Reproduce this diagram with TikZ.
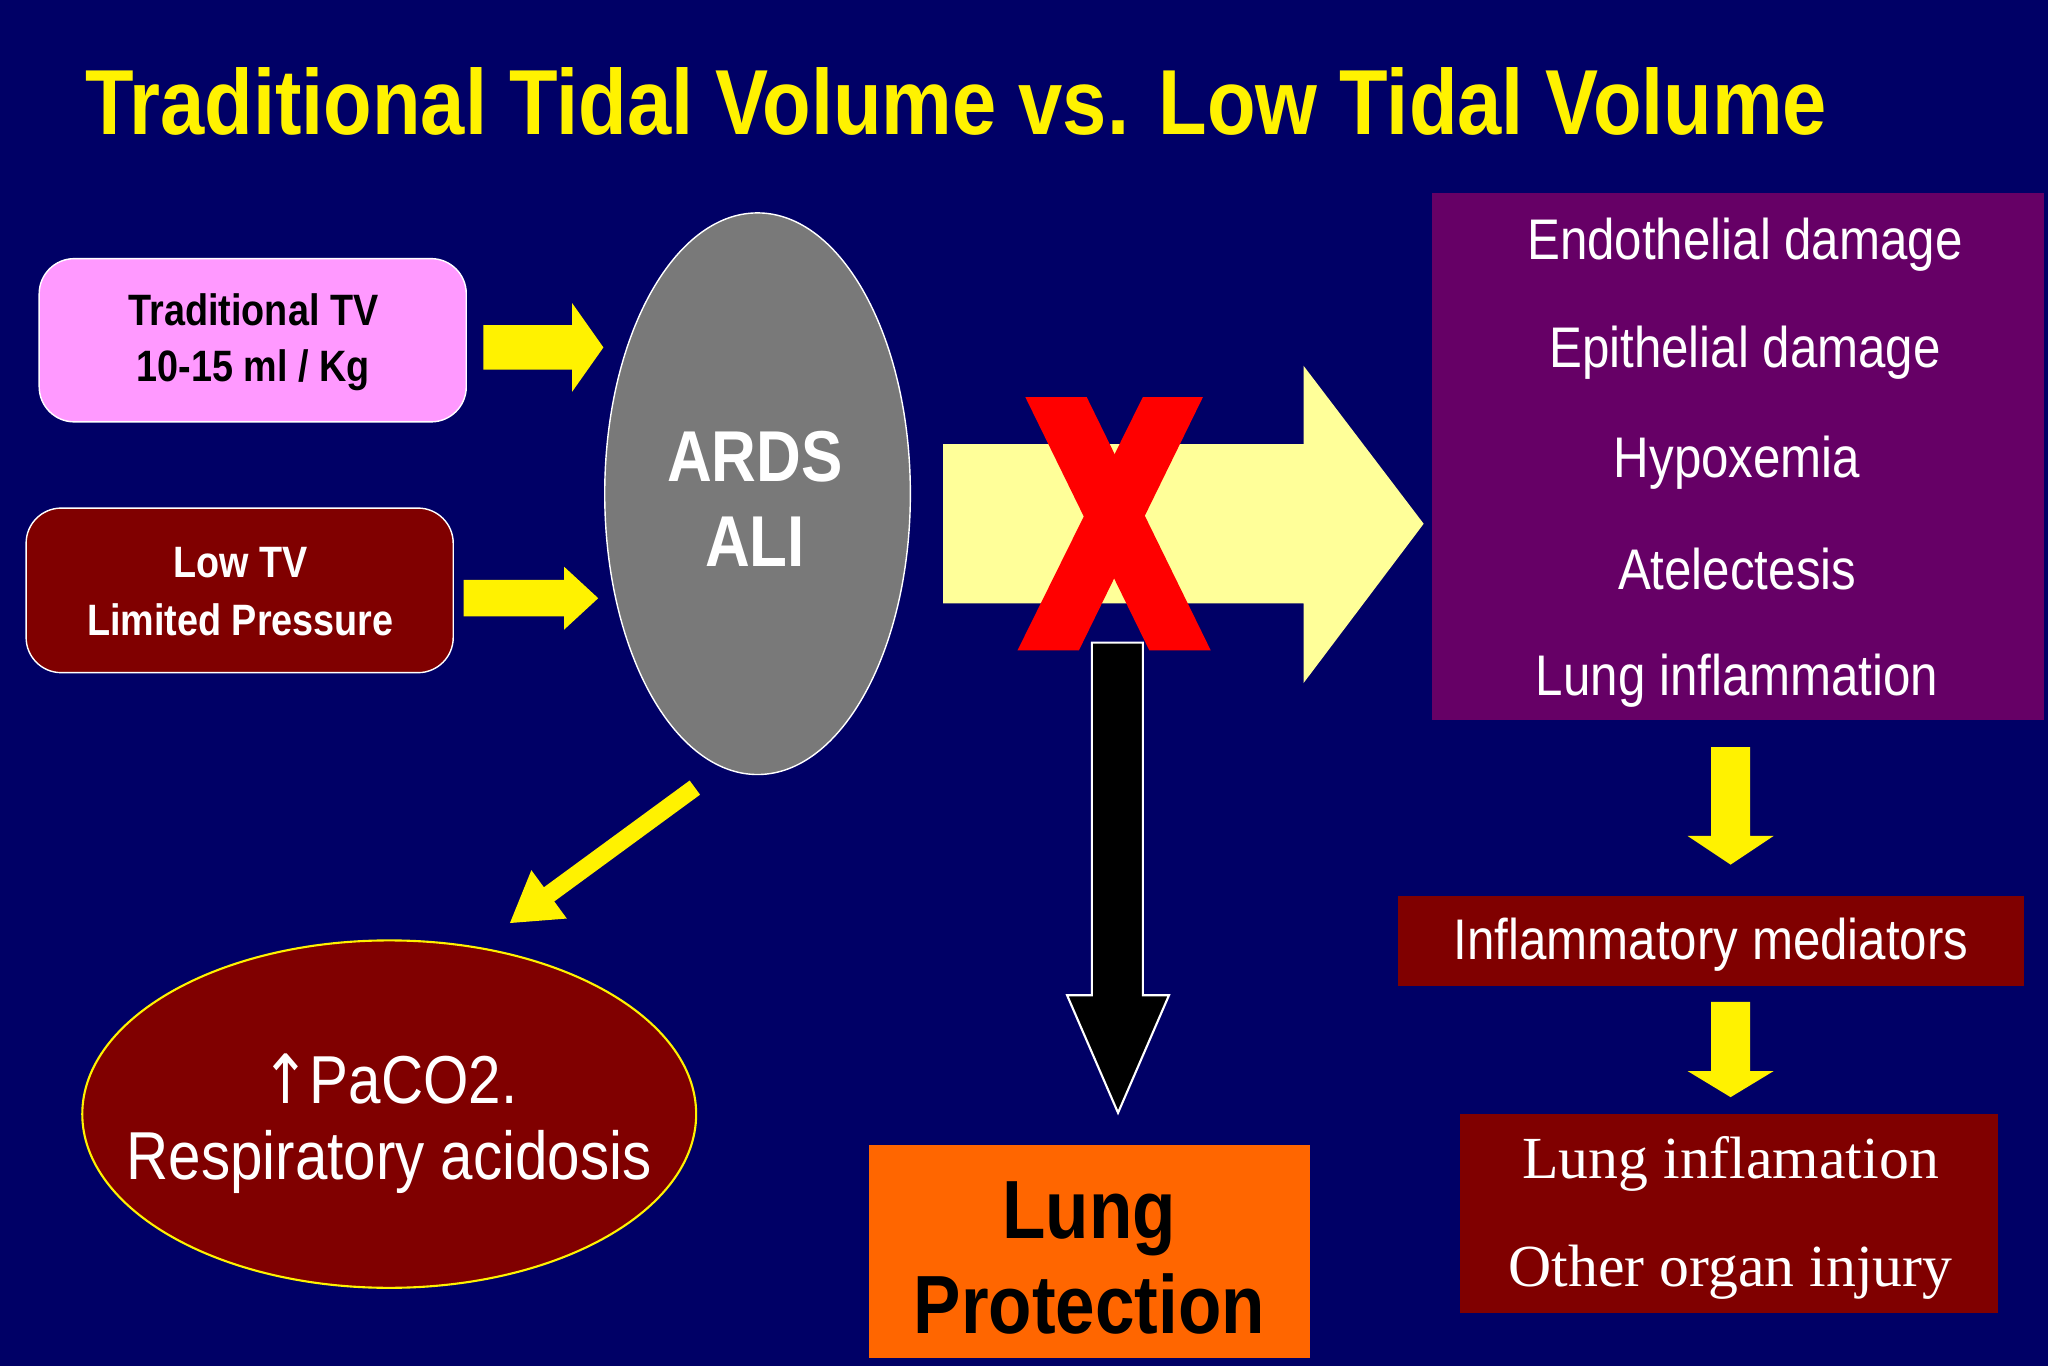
\documentclass[tikz,border=0pt]{standalone}
\usetikzlibrary{arrows.meta}
\usepackage{fontspec}
\setmainfont[FakeStretch=0.86]{Liberation Sans}
\newfontfamily\serifont{Liberation Serif}
\newfontfamily\djv[FakeStretch=0.86]{DejaVu Sans}
\definecolor{navy}{HTML}{000066}
\definecolor{dred}{HTML}{800000}
\definecolor{purp}{HTML}{660066}
\definecolor{pinkb}{HTML}{FF99FF}
\definecolor{paley}{HTML}{FFFF99}
\definecolor{orng}{HTML}{FF6600}
\begin{document}
\begin{tikzpicture}[x=0.013061cm,y=-0.013061cm,
  wt/.style={text=white,align=center},
  yarr/.style={fill=yellow,draw=none}]
\fill[navy] (0,0) rectangle (1568,1046);
\useasboundingbox (0,0) rectangle (1568,1046);
\node[text=yellow,font=\bfseries\fontsize{26.3}{30}\selectfont] (title) at (732,78) {Traditional Tidal Volume vs. Low Tidal Volume};
% left boxes
\fill[pinkb,draw=white,rounded corners=10pt] (30,198) rectangle (357,323);
\node[align=center,font=\bfseries\fontsize{12.5}{16}\selectfont] (tradt) at (194,262) {Traditional TV\\10-15 ml / Kg};
\fill[dred,draw=white,rounded corners=10pt] (20,389) rectangle (347,515);
\node[wt,font=\bfseries\fontsize{12.5}{16.5}\selectfont] (low) at (184,453) {Low TV\\Limited Pressure};
% small yellow arrows
\fill[yarr] (370,249) -- (438,249) -- (438,232) -- (462,266) -- (438,300) -- (438,283) -- (370,283) -- cycle;
\fill[yarr] (355,444) -- (432,444) -- (432,434) -- (458,458) -- (432,482) -- (432,472) -- (355,472) -- cycle;
% ARDS ellipse
\draw[fill=gray!95!black,draw=white] (580,378) ellipse [x radius=117,y radius=215];
\node[wt,font=\bfseries\fontsize{20.5}{24}\selectfont] (ards) at (578,382) {ARDS\\ALI};
% big arrow
\fill[paley] (722,340) -- (998,340) -- (998,280) -- (1090,401) -- (998,523) -- (998,462) -- (722,462) -- cycle;
% black arrow
\draw[fill=black,draw=white,line width=0.6pt] (836,492) -- (875,492) -- (875,762) -- (895,762) -- (856,852) -- (817,762) -- (836,762) -- cycle;
% red X
\fill[red] (785,304) -- (832,304) -- (927,498) -- (880,498) -- cycle;
\fill[red] (875,304) -- (921,304) -- (826,498) -- (779,498) -- cycle;
% purple box
\fill[purp] (1096,148) rectangle (1565,551);
\foreach \t/\yy/\xx in {Endothelial damage/187/1336,Epithelial damage/270/1336,Hypoxemia/354/1330,Atelectesis/436/1330,Lung inflammation/521/1330}
  \node[wt,font=\fontsize{16.3}{20}\selectfont] at (\xx,\yy) {\t};
% down arrows right
\fill[yarr] (1310,572) -- (1340,572) -- (1340,640) -- (1358,640) -- (1325,662) -- (1292,640) -- (1310,640) -- cycle;
\fill[dred] (1070,686) rectangle (1550,755);
\node[wt,font=\fontsize{16.3}{20}\selectfont] (med) at (1310,723) {Inflammatory mediators};
\fill[yarr] (1310,767) -- (1340,767) -- (1340,820) -- (1358,820) -- (1325,840) -- (1292,820) -- (1310,820) -- cycle;
\fill[dred] (1118,853) rectangle (1530,1005);
\node[wt,font=\serifont\fontsize{17}{20}\selectfont] at (1325,891) {Lung inflamation};
\node[wt,font=\serifont\fontsize{17}{20}\selectfont] at (1325,974) {Other organ injury};
% diagonal arrow
\draw[yellow,line width=5pt,-{Triangle[width=16pt,length=14pt]}] (532,603) -- (390,707);
% left ellipse
\draw[fill=dred,draw=yellow,line width=0.6pt] (298,853) ellipse [x radius=235,y radius=133];
\node[wt,font=\fontsize{19.3}{24}\selectfont] at (298,826) {{\djv ↑}PaCO2.};
\node[wt,font=\fontsize{19.3}{24}\selectfont] at (298,890) {Respiratory acidosis};
% orange box
\fill[orng] (665,877) rectangle (1003,1040);
\node[align=center,font=\bfseries\fontsize{23.5}{27}\selectfont] (prot) at (834,963) {Lung\\Protection};
\end{tikzpicture}
\end{document}
